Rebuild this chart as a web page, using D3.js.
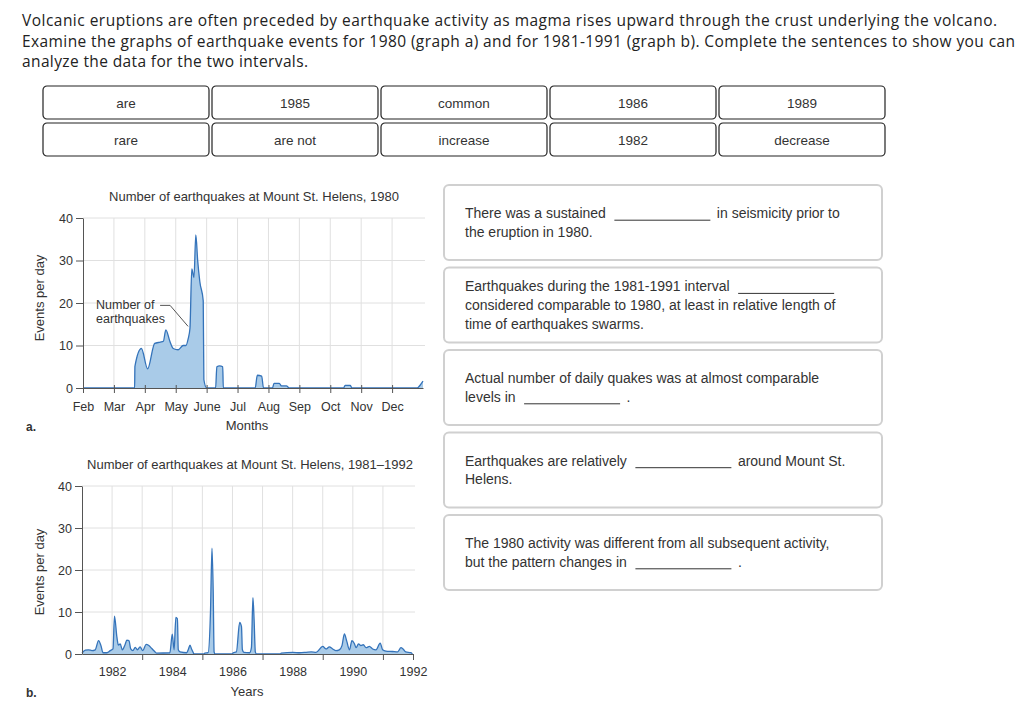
<!DOCTYPE html>
<html>
<head>
<meta charset="utf-8">
<script src="https://cdn.jsdelivr.net/npm/d3@7"></script>
<style>
  body { margin: 0; background: #fff; }
  svg text { font-family: 'Liberation Sans', Arial, sans-serif; fill: #333; }
</style>
</head>
<body>
<svg id="canvas" width="1024" height="715"></svg>
<script>
// question text
let introLines = [
    'Volcanic eruptions are often preceded by earthquake activity as magma rises upward through the crust underlying the volcano.',
    'Examine the graphs of earthquake events for 1980 (graph a) and for 1981-1991 (graph b). Complete the sentences to show you can',
    'analyze the data for the two intervals.'
]
let introLengths = [975, 993, 286]

// word bank, two rows
let wordRows = [
    ['are', '1985', 'common', '1986', '1989'],
    ['rare', 'are not', 'increase', '1982', 'decrease']
]

// sentences, '_' marks the blank
let sentences = [
    [['There was a sustained', '_', 'in seismicity prior to'], ['the eruption in 1980.']],
    [['Earthquakes during the 1981-1991 interval', '_'], ['considered comparable to 1980, at least in relative length of'], ['time of earthquakes swarms.']],
    [['Actual number of daily quakes was at almost comparable'], ['levels in', '_', '.']],
    [['Earthquakes are relatively', '_', 'around Mount St.'], ['Helens.']],
    [['The 1980 activity was different from all subsequent activity,'], ['but the pattern changes in', '_', '.']]
]

// graph a: months since Feb 1 1980, events per day
let months = ['Feb', 'Mar', 'Apr', 'May', 'June', 'Jul', 'Aug', 'Sep', 'Oct', 'Nov', 'Dec']
let quakes1980 = [
    [0, 0], [1.67, 0], [1.68, 5.1], [1.89, 9.3], [2.09, 4.5], [2.32, 10.5], [2.5, 10.8], [2.6, 11],
    [2.68, 13.7], [2.81, 11], [2.92, 9.3], [3.08, 9], [3.24, 10], [3.33, 10], [3.4, 11.5], [3.46, 14],
    [3.52, 28], [3.59, 26], [3.65, 36], [3.71, 30], [3.78, 25], [3.89, 20.5], [3.91, 2], [4.0, 0],
    [4.29, 0], [4.33, 5], [4.42, 5.2], [4.52, 5], [4.54, 0],
    [5.57, 0], [5.64, 3], [5.78, 2.8], [5.84, 0],
    [6.13, 0], [6.18, 1.1], [6.35, 1.1], [6.42, 0.5], [6.58, 0.5], [6.68, 0],
    [8.43, 0], [8.48, 0.6], [8.65, 0.6], [8.7, 0],
    [10.81, 0], [10.9, 0.6], [11.0, 1.6]
]

// graph b: decimal year, events per day
let yearLabels = [1982, 1984, 1986, 1988, 1990, 1992]
let yearTicks = [1983, 1985, 1987, 1989, 1991, 1992]
let quakes8192 = [
    [1981.00, 0.2], [1981.11, 0.9], [1981.22, 1.0], [1981.33, 0.8], [1981.44, 1.0], [1981.55, 3.2],
    [1981.63, 2], [1981.70, 0.3], [1981.83, 0.3], [1981.94, 0.8], [1982.03, 1.2], [1982.08, 9],
    [1982.16, 4], [1982.21, 2.1], [1982.27, 2.4], [1982.34, 1.0], [1982.43, 2.2], [1982.49, 3.3],
    [1982.56, 3.2], [1982.62, 1.2], [1982.69, 0.8], [1982.77, 1.6], [1982.84, 1.0], [1982.93, 1.7],
    [1983.02, 0.8], [1983.13, 2.3], [1983.21, 2.1], [1983.32, 1.3], [1983.43, 0.5], [1983.48, 0.2],
    [1983.92, 0.3], [1984.00, 4.7], [1984.06, 1], [1984.12, 8.7], [1984.17, 8.4], [1984.20, 1],
    [1984.26, 0.5], [1984.48, 0.3], [1984.53, 1], [1984.59, 2.1], [1984.64, 1.2], [1984.70, 0.3],
    [1984.72, 0], [1985.06, 0], [1985.08, 0.2], [1985.19, 0.3], [1985.27, 10], [1985.32, 25.2],
    [1985.36, 15], [1985.39, 0.5], [1985.42, 0], [1986.0, 0], [1986.02, 0.3], [1986.13, 0.5],
    [1986.24, 7.5], [1986.30, 6.5], [1986.33, 1], [1986.38, 0.4], [1986.57, 0.3], [1986.63, 1.5],
    [1986.68, 13.4], [1986.72, 8], [1986.76, 0.5], [1986.8, 0], [1987.6, 0], [1987.62, 0.2],
    [1988.01, 0.4], [1988.23, 0.3], [1988.45, 0.4], [1988.62, 0.5], [1988.78, 0.4], [1989.0, 1.8],
    [1989.11, 1.2], [1989.22, 1.7], [1989.33, 1.2], [1989.44, 0.8], [1989.55, 1.0], [1989.64, 2],
    [1989.72, 4.8], [1989.80, 3], [1989.89, 1], [1989.97, 3.2], [1990.05, 2.5], [1990.11, 1.5],
    [1990.19, 2.4], [1990.27, 2], [1990.35, 2.2], [1990.44, 1.5], [1990.55, 1.8], [1990.66, 1.2],
    [1990.77, 1.0], [1990.91, 2.6], [1990.99, 1], [1991.10, 0.7], [1991.32, 0.6], [1991.49, 0.5],
    [1991.60, 1.5], [1991.67, 1.2], [1991.76, 0.5], [1991.93, 0.3], [1991.98, 0]
]

let yTicks = [0, 10, 20, 30, 40]

let canvas = d3.select('#canvas')

// intro paragraph
canvas.selectAll('text.intro')
    .data(introLines)
    .enter()
    .append('text')
    .attr('class', 'intro')
    .attr('x', 22)
    .attr('y', (d, i) => 26 + i * 20.5)
    .attr('textLength', (d, i) => introLengths[i])
    .attr('lengthAdjust', 'spacing')
    .style('font-family', "'Open Sans', sans-serif")
    .style('font-size', '15.5px')
    .style('fill', '#222')
    .text((d) => d)

// word bank buttons
wordRows.forEach((row, r) => {
    let btn = canvas.selectAll(null)
        .data(row)
        .enter()
        .append('g')
        .attr('transform', (d, i) => 'translate(' + (43 + i * 169) + ',' + (86 + r * 37) + ')')
    btn.append('rect')
        .attr('width', 166)
        .attr('height', 33)
        .attr('rx', 4)
        .attr('fill', '#fff')
        .attr('stroke', '#222')
        .attr('stroke-width', 1.2)
    btn.append('text')
        .attr('x', 83)
        .attr('y', 21.5)
        .attr('text-anchor', 'middle')
        .style('font-size', '13.5px')
        .text((d) => d)
})

// sentence panels
sentences.forEach((lines, p) => {
    let top = 185 + p * 82.5
    canvas.append('rect')
        .attr('x', 444).attr('y', top)
        .attr('width', 438).attr('height', 75)
        .attr('rx', 5)
        .attr('fill', '#fff')
        .attr('stroke', '#d0d0d0')
        .attr('stroke-width', 2)
    let firstLine = top + 37.5 - (lines.length - 1) * 9.3
    lines.forEach((pieces, li) => {
        let cy = firstLine + li * 18.6
        let cx = 465
        pieces.forEach((piece) => {
            if (piece === '_') {
                cx += 8.5
                canvas.append('line')
                    .attr('x1', cx).attr('x2', cx + 96)
                    .attr('y1', cy + 7).attr('y2', cy + 7)
                    .attr('stroke', '#333')
                    .attr('stroke-width', 1)
                cx += 96 + 6.5
            } else {
                let t = canvas.append('text')
                    .attr('x', cx)
                    .attr('y', cy + 5)
                    .style('font-size', '14px')
                    .text(piece)
                cx += t.node().getComputedTextLength()
            }
        })
    })
})

let drawChart = (opt) => {
    let x = d3.scaleLinear().domain(opt.xDomain).range(opt.xRange)
    let y = d3.scaleLinear().domain([0, 40]).range(opt.yRange)
    let g = canvas.append('g')

    // grid
    g.selectAll('line.hgrid')
        .data(yTicks.slice(1))
        .enter()
        .append('line')
        .attr('x1', opt.xRange[0]).attr('x2', opt.xRange[1] + 2)
        .attr('y1', (d) => y(d)).attr('y2', (d) => y(d))
        .attr('stroke', '#e0e0e0')
    g.selectAll('line.vgrid')
        .data(opt.gridX)
        .enter()
        .append('line')
        .attr('x1', (d) => x(d)).attr('x2', (d) => x(d))
        .attr('y1', y(0)).attr('y2', y(40))
        .attr('stroke', '#e0e0e0')

    // filled series
    let area = d3.area()
        .x((d) => x(d[0]))
        .y0(y(0))
        .y1((d) => y(d[1]))
        .curve(d3.curveMonotoneX)
    g.append('path')
        .datum(opt.data)
        .attr('d', area)
        .attr('fill', '#a9cbe8')
    g.append('path')
        .datum(opt.data)
        .attr('d', area.lineY1())
        .attr('fill', 'none')
        .attr('stroke', '#3473ba')
        .attr('stroke-width', 1.3)

    // axes
    g.append('g')
        .attr('transform', 'translate(' + opt.xRange[0] + ',0)')
        .call(d3.axisLeft(y).tickValues(yTicks).tickSize(7).tickPadding(3).tickSizeOuter(0))
    opt.xAxis(g, x, y)

    g.selectAll('.domain, .tick line').attr('stroke', '#555')
    g.selectAll('.tick text')
        .attr('font-family', null)
        .attr('font-size', null)
        .style('font-size', '12.5px')
        .style('fill', '#333')

    // titles
    g.append('text')
        .attr('x', opt.titleX).attr('y', opt.yRange[1] - 17)
        .attr('text-anchor', 'middle')
        .style('font-size', '13px')
        .text(opt.title)
    g.append('text')
        .attr('transform', 'translate(44,' + ((opt.yRange[0] + opt.yRange[1]) / 2 + opt.labelShift) + ') rotate(-90)')
        .attr('text-anchor', 'middle')
        .style('font-size', '13px')
        .text('Events per day')
    g.append('text')
        .attr('x', 247).attr('y', opt.yRange[0] + 42)
        .attr('text-anchor', 'middle')
        .style('font-size', '13px')
        .text(opt.xTitle)
    g.append('text')
        .attr('x', 26).attr('y', opt.yRange[0] + 43)
        .style('font-size', '12px')
        .style('font-weight', 'bold')
        .text(opt.letter)

    return {x: x, y: y, g: g}
}

// graph a
let chartA = drawChart({
    xDomain: [0, 11],
    xRange: [83, 423],
    yRange: [388, 218],
    gridX: d3.range(1, months.length),
    data: quakes1980,
    title: 'Number of earthquakes at Mount St. Helens, 1980',
    titleX: 254,
    xTitle: 'Months',
    letter: 'a.',
    labelShift: -5,
    xAxis: (g, x, y) => {
        let ax = g.append('g')
            .attr('transform', 'translate(0,' + y(0) + ')')
            .call(d3.axisBottom(x)
                .tickValues(d3.range(0, months.length))
                .tickFormat((i) => months[i])
                .tickSize(5)
                .tickPadding(9)
                .tickSizeOuter(0))
        ax.selectAll('.tick line').attr('y1', -3)
    }
})

// callout on graph a
let calloutAt = [3.40, 14.5]
let cx0 = chartA.x(calloutAt[0])
let cy0 = chartA.y(calloutAt[1])
chartA.g.append('polyline')
    .attr('points', [[cx0 - 28, cy0 - 21], [cx0 - 18, cy0 - 21], [cx0, cy0]].join(' '))
    .attr('fill', 'none')
    .attr('stroke', '#555')
    .attr('stroke-width', 1)
chartA.g.append('text')
    .attr('x', cx0 - 92).attr('y', cy0 - 17)
    .style('font-size', '12.5px')
    .selectAll('tspan')
    .data(['Number of', 'earthquakes'])
    .enter()
    .append('tspan')
    .attr('x', cx0 - 92)
    .attr('dy', (d, i) => i === 0 ? 0 : 14)
    .text((d) => d)

// graph b
drawChart({
    xDomain: [1981, 1992],
    xRange: [82, 413],
    yRange: [654, 486],
    gridX: d3.range(1982, 1992),
    data: quakes8192,
    title: 'Number of earthquakes at Mount St. Helens, 1981\u20131992',
    titleX: 250,
    xTitle: 'Years',
    letter: 'b.',
    labelShift: 2,
    xAxis: (g, x, y) => {
        g.append('g')
            .attr('transform', 'translate(0,' + y(0) + ')')
            .call(d3.axisBottom(x)
                .tickValues(yearTicks)
                .tickFormat('')
                .tickSize(6)
                .tickSizeOuter(0))
        g.append('g')
            .attr('transform', 'translate(0,' + y(0) + ')')
            .call(d3.axisBottom(x)
                .tickValues(yearLabels)
                .tickFormat(d3.format('d'))
                .tickSize(0)
                .tickPadding(13))
            .select('.domain').remove()
    }
})
</script>
</body>
</html>
